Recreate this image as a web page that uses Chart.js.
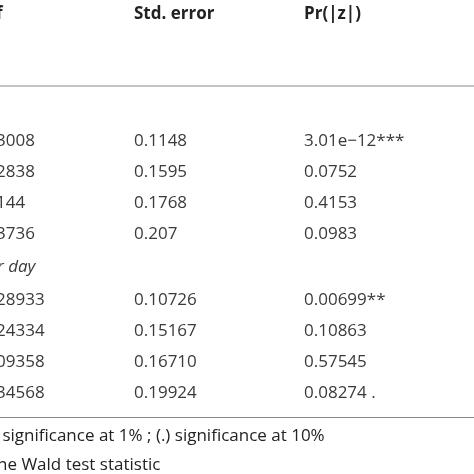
<!DOCTYPE html>
<html><head><meta charset="utf-8">
<script src="https://cdn.jsdelivr.net/npm/chart.js@4"></script>
<style>html,body{margin:0;padding:0;background:#fff}#w{width:474px;height:474px}</style>
</head><body><div id="w"><canvas id="c" width="474" height="474"></canvas></div>
<script>
const headers = ["f", "Std. error", "Pr(|z|)"];
const coefCol = ["3008", "2838", "144", "3736", "r day", "28933", "24334", "09358", "34568"];
const stdErr = ["0.1148", "0.1595", "0.1768", "0.207", "", "0.10726", "0.15167", "0.16710", "0.19924"];
const pVals = ["3.01e\u221212***", "0.0752", "0.4153", "0.0983", "", "0.00699**", "0.10863", "0.57545", "0.08274 ."];
const footnotes = [" significance at 1% ; (.) significance at 10%", "ne Wald test statistic"];
const rowY = [141, 172, 203, 234, 267, 300, 331, 362, 393];

const tablePlugin = {
  id: 'table',
  afterDraw(chart) {
    const ctx = chart.ctx;
    ctx.save();
    ctx.textBaseline = 'middle';
    ctx.fillStyle = '#222';
    ctx.font = 'bold 17px "Open Sans"';
    ctx.fillText(headers[0], -4, 14);
    ctx.fillText(headers[1], 134, 14);
    ctx.fillText(headers[2], 304, 14);
    ctx.strokeStyle = '#888'; ctx.lineWidth = 1;
    ctx.beginPath(); ctx.moveTo(0, 86); ctx.lineTo(474, 86); ctx.stroke();
    ctx.beginPath(); ctx.moveTo(0, 417.5); ctx.lineTo(474, 417.5); ctx.stroke();
    ctx.fillStyle = '#3a3a3a';
    rowY.forEach((y, i) => {
      ctx.font = (i === 4 ? 'italic ' : '') + '17px "Open Sans"';
      ctx.fillText(coefCol[i], i === 4 ? -3 : -4, y);
      ctx.font = '17px "Open Sans"';
      ctx.fillText(stdErr[i], 134, y);
      ctx.fillText(pVals[i], 304, y);
    });
    ctx.fillStyle = '#222';
    ctx.fillText(footnotes[0], -2, 436);
    ctx.fillText(footnotes[1], -3, 465);
    ctx.restore();
  }
};

new Chart(document.getElementById('c'), {
  type: 'scatter',
  data: { datasets: [{ data: [] }] },
  options: {
    responsive: false, animation: false,
    plugins: { legend: { display: false }, tooltip: { enabled: false } },
    scales: { x: { display: false }, y: { display: false } }
  },
  plugins: [tablePlugin]
});
</script></body></html>
